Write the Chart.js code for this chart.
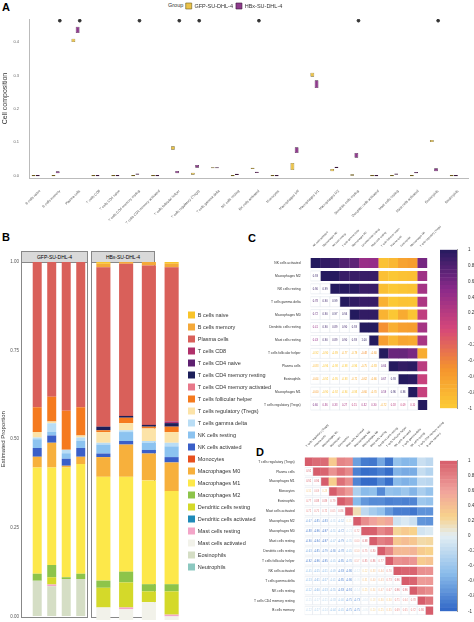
<!DOCTYPE html>
<html><head><meta charset="utf-8">
<script src="https://cdn.jsdelivr.net/npm/chart.js@4"></script>
<style>
body{margin:0;width:474px;height:622px;background:#fff;font-family:"Liberation Sans",Arial,sans-serif;position:relative;overflow:hidden}
.p{position:absolute}
.lab{position:absolute;font-weight:bold;font-size:11px}
.strip{position:absolute;background:#d9d9d9;border:1px solid #888;font-size:5px;text-align:center;line-height:11px;box-sizing:border-box}
.frame{position:absolute;border:1px solid #888;box-sizing:border-box}
</style></head><body>
<div class="lab" style="left:2px;top:1px">A</div>
<div class="lab" style="left:2px;top:231px">B</div>
<div class="lab" style="left:248px;top:232px">C</div>
<div class="lab" style="left:256px;top:446px">D</div>
<div class="p" style="left:168px;top:2px;font-size:5.5px;color:#333">Group</div>
<div class="strip" style="left:21px;top:251px;width:67px;height:12px">GFP-SU-DHL-4</div>
<div class="strip" style="left:91px;top:251px;width:64px;height:12px">HBx-SU-DHL-4</div>
<div class="frame" style="left:21px;top:262px;width:67px;height:356px"></div>
<div class="frame" style="left:91px;top:262px;width:64px;height:356px"></div>
<div class="p" style="left:0;top:0;width:474px;height:228px"><canvas id="cA"></canvas></div>
<div class="p" style="left:0;top:250px;width:90px;height:372px"><canvas id="cB1"></canvas></div>
<div class="p" style="left:89px;top:250px;width:185px;height:372px"><canvas id="cB2"></canvas></div>
<div class="p" style="left:262px;top:224px;width:182px;height:192px"><canvas id="cC"></canvas></div>
<div class="p" style="left:440px;top:244px;width:34px;height:170px"><canvas id="cCb"></canvas></div>
<div class="p" style="left:252px;top:420px;width:192px;height:200px"><canvas id="cD"></canvas></div>
<div class="p" style="left:440px;top:455px;width:34px;height:162px"><canvas id="cDb"></canvas></div>
<script>
// ---------- Panel A data ----------
const cellTypesA=["B cells naive","B cells memory","Plasma cells","T cells CD8","T cells CD4 naive","T cells CD4 memory resting","T cells CD4 memory activated","T cells follicular helper","T cells regulatory (Tregs)","T cells gamma delta","NK cells resting","NK cells activated","Monocytes","Macrophages M0","Macrophages M1","Macrophages M2","Dendritic cells resting","Dendritic cells activated","Mast cells resting","Mast cells activated","Eosinophils","Neutrophils"];
const gfpLow =[0,0,0.401,0,0,0,0,0.078,0.003,0.022,0,0.020,0,0.017,0.297,0.013,0,0,0,0,0.101,0];
const gfpHigh=[0.001,0.001,0.411,0.001,0.001,0.001,0.001,0.088,0.009,0.024,0.002,0.024,0.001,0.038,0.309,0.020,0.004,0.001,0.001,0.001,0.107,0.001];
const hbxLow =[0,0.007,0.428,0,0,0.003,0,0.007,0.024,0.022,0.002,0.008,0,0.068,0.263,0.023,0.054,0,0.003,0.007,0.013,0];
const hbxHigh=[0.001,0.013,0.447,0.001,0.001,0.005,0.001,0.014,0.032,0.025,0.005,0.012,0.002,0.085,0.286,0.026,0.068,0.001,0.005,0.011,0.022,0.001];
const sigIdx=[1,2,5,7,8,11,16,20];
const sigY=0.465;
// ---------- Panel B data ----------
const samplesB1=["GFP1","GFP2","GFP3","GFP4"];
const samplesB2=["HBx1","HBx2","HBx3","HBx4"];
const cellB=["Neutrophils","Eosinophils","Mast cells activated","Mast cells resting","Dendritic cells activated","Dendritic cells resting","Macrophages M2","Macrophages M1","Macrophages M0","Monocytes","NK cells activated","NK cells resting","T cells gamma delta","T cells regulatory (Tregs)","T cells follicular helper","T cells CD4 memory activated","T cells CD4 memory resting","T cells CD4 naive","T cells CD8","Plasma cells","B cells memory","B cells naive"];
const colB=["#8CC8C0","#D5DEC5","#F2F2EA","#F3A5C8","#1F8AB8","#D4D92A","#8DC44A","#FDE84A","#F7B03C","#E8501E","#3A5FC8","#8CC3F0","#B9DDF5","#FCE3A8","#F57A1E","#E8788A","#1C1F5A","#5E2070","#B0306A","#D9605A","#F4A93A","#F9C42A"];
const propB={
"Neutrophils":[0,0,0,0,0,0,0,0],
"Eosinophils":[0.100,0.085,0.105,0.105,0,0,0,0],
"Mast cells activated":[0,0,0,0,0.035,0.030,0.050,0.010],
"Mast cells resting":[0,0.005,0,0,0,0.005,0,0.005],
"Dendritic cells activated":[0,0,0,0,0,0,0,0],
"Dendritic cells resting":[0,0.020,0,0,0.055,0.070,0.030,0.065],
"Macrophages M2":[0.020,0.035,0.005,0.015,0.020,0.030,0.020,0.020],
"Macrophages M1":[0.300,0.275,0.310,0.310,0.290,0.265,0.290,0.260],
"Macrophages M0":[0.030,0.070,0.005,0.020,0.055,0.090,0.075,0.080],
"Monocytes":[0,0,0,0,0,0,0,0],
"NK cells activated":[0.025,0.020,0.020,0.025,0.010,0.010,0.010,0.015],
"NK cells resting":[0.025,0.010,0.015,0.020,0.025,0.025,0.020,0.030],
"T cells gamma delta":[0.005,0.025,0.010,0.010,0.005,0.005,0.005,0.010],
"T cells regulatory (Tregs)":[0.015,0.005,0,0.005,0.030,0.020,0.035,0.030],
"T cells follicular helper":[0.070,0.070,0.110,0.080,0.005,0.015,0.005,0.015],
"T cells CD4 memory activated":[0,0,0,0,0,0,0,0],
"T cells CD4 memory resting":[0,0,0,0,0.010,0.005,0.005,0.010],
"T cells CD4 naive":[0,0,0,0,0,0,0,0],
"T cells CD8":[0,0,0,0,0,0,0,0.005],
"Plasma cells":[0.410,0.380,0.420,0.410,0.445,0.425,0.445,0.430],
"B cells memory":[0,0,0,0,0.010,0.005,0.010,0.010],
"B cells naive":[0,0,0,0,0.005,0,0,0.005]};
// ---------- Panel C data ----------
const labelsC=["NK cells activated","Macrophages M2","NK cells resting","T cells gamma delta","Macrophages M0","Dendritic cells resting","Mast cells resting","T cells follicular helper","Plasma cells","Eosinophils","Macrophages M1","T cells regulatory (Tregs)"];
const corrC=[
[1],
[.93,1],
[.90,.99,1],
[.78,.90,.99,1],
[.72,.90,.97,.94,1],
[.41,.90,.89,.90,.93,1],
[.43,.90,.89,.90,.93,1.00,1],
[-.92,-.90,-.89,-.77,-.79,-.48,-.60,1],
[-.83,-.96,-.98,-.98,-.96,-.75,-.83,.66,1],
[-.64,-.92,-.95,-.93,-.71,-.62,-.66,.67,.93,1],
[-.60,-.90,-.92,-.94,-.93,-.60,-.70,.59,.96,.96,1],
[.60,.36,.33,.27,.15,.32,.30,-.72,.18,.09,.10,1]];
// ---------- Panel D data ----------
const labelsD=["T cells regulatory (Tregs)","Plasma cells","Macrophages M1","Monocytes","Eosinophils","Mast cells activated","Macrophages M2","Macrophages M0","Mast cells resting","Dendritic cells resting","T cells follicular helper","NK cells activated","T cells gamma delta","NK cells resting","T cells CD4 memory resting","B cells memory"];
const corrD=[
[1],
[.92,1],
[.92,.96,1],
[.31,.69,.28,1],
[.77,.88,.89,.79,1],
[.72,.75,.72,.65,.86,1],
[-.67,-.85,-.83,-.31,-.52,.15,1],
[-.88,-.96,-.97,-.51,-.72,-.21,.72,1],
[-.90,-.94,-.97,-.47,-.79,-.35,.60,.98,1],
[-.63,-.85,-.79,-.80,-.78,-.45,.50,.75,.80,1],
[-.92,-.96,-.95,-.45,-.85,-.70,.57,.85,.86,.77,1],
[-.45,-.55,-.51,-.49,-.83,-.86,-.12,.22,.33,.44,.70,1],
[-.53,-.61,-.57,-.41,-.85,-.86,-.05,.31,.40,.43,.73,.96,1],
[-.52,-.60,-.53,-.55,-.83,-.91,-.14,.25,.34,.47,.67,.96,.96,1],
[-.15,-.17,-.21,-.33,-.40,-.75,-.73,-.10,.18,.30,.30,.71,.64,.78,1],
[-.22,-.27,-.24,-.44,-.45,-.75,-.75,-.05,.20,.25,.35,.69,.65,.72,.86,1]];
const cbTicks=[1,0.8,0.6,0.4,0.2,0,-0.2,-0.4,-0.6,-0.8,-1];

Chart.defaults.font.family='"Liberation Sans",Arial,sans-serif';
Chart.defaults.color='#444';
Chart.defaults.animation=false;
Chart.defaults.responsive=true;
Chart.defaults.maintainAspectRatio=false;

function lerpStops(stops,v){
  for(let i=0;i<stops.length-1;i++){
    const [a,ca]=stops[i],[b,cb]=stops[i+1];
    if(v>=a&&v<=b){const t=(v-a)/(b-a);
      const h=c=>[1,3,5].map(k=>parseInt(c.substr(k,2),16));
      const A=h(ca),B=h(cb);
      return 'rgb('+A.map((x,j)=>Math.round(x+(B[j]-x)*t)).join(',')+')';}
  }
  return stops[stops.length-1][1];
}
const stopsC=[[-1,"#FCCB35"],[-0.5,"#F5932E"],[0,"#D5477A"],[0.5,"#8A2A8A"],[1,"#241A5E"]];
const stopsD=[[-1,"#2F66C6"],[-0.5,"#8CBDEB"],[0,"#E3EEF3"],[0.25,"#F8D28C"],[0.6,"#F0A29C"],[1,"#D65D6B"]];

// ---------- Panel A ----------
new Chart(document.getElementById('cA'),{
  data:{labels:cellTypesA,datasets:[
    {type:'bar',label:'GFP-SU-DHL-4',data:gfpLow.map((l,i)=>[l,gfpHigh[i]]),backgroundColor:'#EBC34A',borderColor:'#6b5a1a',borderWidth:0.6,minBarLength:1.2,barPercentage:0.9,categoryPercentage:0.85,borderSkipped:false},
    {type:'bar',label:'HBx-SU-DHL-4',data:hbxLow.map((l,i)=>[l,hbxHigh[i]]),backgroundColor:'#8E3B8C',borderColor:'#3a1539',borderWidth:0.6,minBarLength:1.2,barPercentage:0.9,categoryPercentage:0.85,borderSkipped:false},
    {type:'scatter',label:'sig',data:sigIdx.map(i=>({x:i,y:sigY})),pointRadius:1.4,backgroundColor:'#333',borderColor:'#333',xAxisID:'xs'}
  ]},
  options:{layout:{padding:{left:0,right:6,top:0}},
    plugins:{legend:{position:'top',labels:{boxWidth:6,boxHeight:6,font:{size:5.5},padding:3,color:'#333',filter:i=>i.text!=='sig'}},tooltip:{enabled:false}},
    scales:{
      x:{type:'category',grid:{display:false},border:{color:'#bbb'},ticks:{font:{size:3.5},maxRotation:45,minRotation:45,autoSkip:false,color:'#555'}},
      xs:{type:'linear',display:false,min:-0.5,max:21.5,offset:false},
      y:{min:-0.007,max:0.47,grid:{display:false},border:{color:'#bbb'},afterBuildTicks:s=>{s.ticks=[0,0.1,0.2,0.3,0.4].map(v=>({value:v}));},ticks:{font:{size:4},color:'#666',callback:v=>v.toFixed(1)},title:{display:true,text:'Cell composition',font:{size:7},color:'#333',padding:1}}
    }}
});

// ---------- Panel B ----------
function stackDatasets(offset){
  return cellB.map((c,k)=>({label:c,data:propB[c].slice(offset,offset+4),backgroundColor:colB[k],borderWidth:0,barPercentage:0.62,categoryPercentage:1}));
}
new Chart(document.getElementById('cB1'),{type:'bar',
  data:{labels:samplesB1,datasets:stackDatasets(0)},
  options:{layout:{padding:{top:12,bottom:2,right:2}},plugins:{legend:{display:false},tooltip:{enabled:false}},
    scales:{x:{stacked:true,display:false},
      y:{stacked:true,min:0,max:1,grid:{display:false},border:{display:false},ticks:{stepSize:0.25,font:{size:4.5},color:'#555',callback:v=>v.toFixed(2)},title:{display:true,text:'Estimated Proportion',font:{size:6},color:'#333',padding:0}}}}
});
new Chart(document.getElementById('cB2'),{type:'bar',
  data:{labels:samplesB2,datasets:stackDatasets(4)},
  options:{layout:{padding:{top:12,bottom:2,left:3}},plugins:{tooltip:{enabled:false},legend:{position:'right',reverse:true,align:'center',labels:{boxWidth:7,boxHeight:7,font:{size:5.5},padding:5,color:'#333'}}},
    scales:{x:{stacked:true,display:false},y:{stacked:true,min:0,max:1,display:false}}}
});

// ---------- Correlation matrix helper ----------
function fullMat(tri){const n=tri.length;const m=[];for(let i=0;i<n;i++){m.push([]);for(let j=0;j<n;j++)m[i].push(j<=i?tri[i][j]:tri[j][i]);}return m;}
function corrChart(id,labels,tri,stops,pad,fs){
  const n=labels.length,M=fullMat(tri);
  const upper=[],lower=[];
  for(let i=0;i<n;i++)for(let j=0;j<n;j++){const p={x:j,y:i,v:M[i][j]};(j>=i?upper:lower).push(p);}
  const cellR=ctx=>{const a=ctx.chart.chartArea;return a?Math.min(a.width,a.height)/n/Math.SQRT2*1.03:3;};
  const textPlugin={id:'txt'+id,afterDatasetsDraw(ch){
    const c=ch.ctx,xs=ch.scales.x,ys=ch.scales.y;c.save();c.font='2.6px "Liberation Sans"';c.textAlign='center';c.textBaseline='middle';
    lower.forEach(p=>{c.fillStyle=lerpStops(stops,p.v);c.fillText(p.v.toFixed(2),xs.getPixelForValue(p.x),ys.getPixelForValue(p.y));});
    c.restore();}};
  new Chart(document.getElementById(id),{type:'scatter',
    data:{datasets:[
      {data:lower,pointStyle:'rect',pointRadius:cellR,backgroundColor:'#fff',borderColor:'#dde3ea',borderWidth:0.5},
      {data:upper,pointStyle:'rect',pointRadius:cellR,backgroundColor:ctx=>lerpStops(stops,ctx.raw?ctx.raw.v:0),borderWidth:0}
    ]},
    plugins:[textPlugin],
    options:{layout:{padding:pad},plugins:{legend:{display:false},tooltip:{enabled:false}},
      scales:{
        x:{type:'linear',position:'top',min:-0.5,max:n-0.5,grid:{display:false},border:{display:false},
          afterBuildTicks:s=>{s.ticks=labels.map((_,i)=>({value:i}));},
          ticks:{font:{size:fs},color:'#333',padding:1,maxRotation:45,minRotation:45,autoSkip:false,callback:v=>labels[v]}},
        y:{type:'linear',reverse:true,min:-0.5,max:n-0.5,grid:{display:false},border:{display:false},
          afterBuildTicks:s=>{s.ticks=labels.map((_,i)=>({value:i}));},
          ticks:{font:{size:3.3},color:'#333',padding:2,autoSkip:false,callback:v=>labels[v]}}
      }}
  });
}
corrChart('cC',labelsC,corrC,stopsC,{left:0,right:0,top:0,bottom:2},2.6);
corrChart('cD',labelsD,corrD,stopsD,{left:0,right:0,top:0,bottom:2},2.8);

// ---------- colour bars ----------
function colorBar(id,stops){
  const segs=[];for(let k=0;k<40;k++){segs.push(-1+k*0.05);}
  new Chart(document.getElementById(id),{type:'bar',
    data:{labels:['c'],datasets:segs.map(s=>({data:[[s,s+0.05]],backgroundColor:lerpStops(stops,s+0.025),borderWidth:0,barPercentage:1,categoryPercentage:1,grouped:false}))},
    options:{layout:{padding:{left:0,right:0,top:2,bottom:2}},plugins:{legend:{display:false},tooltip:{enabled:false}},
      scales:{x:{display:false},y:{position:'right',min:-1,max:1,grid:{display:false},border:{color:'#999'},
        afterBuildTicks:s=>{s.ticks=cbTicks.map(v=>({value:v}));},
        ticks:{font:{size:4.5},color:'#333',padding:3,callback:v=>String(Math.round(v*10)/10)}}}}
  });
}
colorBar('cCb',stopsC);
colorBar('cDb',stopsD);
</script></body></html>
